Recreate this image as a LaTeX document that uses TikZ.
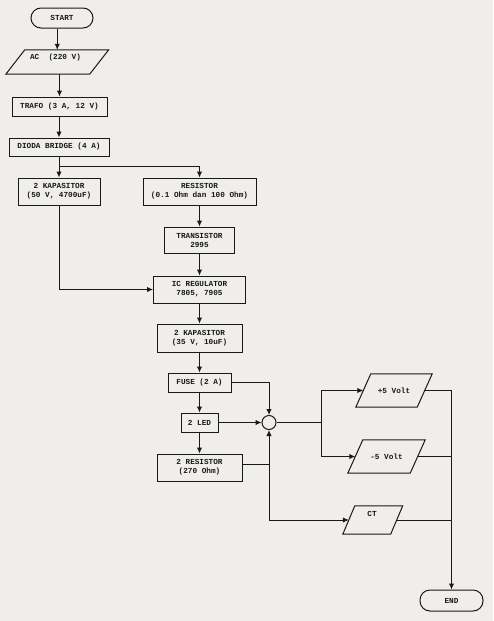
\documentclass[tikz,border=0pt]{standalone}
\usepackage{fontspec}
\newfontfamily\cour{Liberation Mono}
\usetikzlibrary{arrows.meta,calc}
\definecolor{bg}{RGB}{239,238,235}
\definecolor{ln}{RGB}{25,25,25}
\newcommand\mypgram[2]{\draw[ln,line width=1pt] ($(#1.north west)+(#2,0)$) -- ($(#1.north east)+(#2,0)$) -- ($(#1.south east)-(#2,0)$) -- ($(#1.south west)-(#2,0)$) -- cycle;}
\begin{document}
\begin{tikzpicture}[x=1pt,y=-1pt,
  every node/.style={font=\cour\bfseries\fontsize{7.7}{9}\selectfont, text=ln, inner sep=0pt},
  box/.style={draw=ln, line width=1pt, rectangle, align=center},
  term/.style={draw=ln, line width=1pt, rectangle, rounded corners=10pt, align=center},
  io/.style={rectangle, align=center},
  junc/.style={draw=ln, line width=1pt, circle, minimum size=14pt},
  arr/.style={-{Latex[length=6pt,width=5.5pt]}, draw=ln, line width=1pt},
  ln/.style={draw=ln, line width=1pt}]
\fill[bg] (0,0) rectangle (493,621);
\useasboundingbox (0,0) rectangle (493,621);

\node[term, minimum width=62pt, minimum height=20pt] (START) at (62,18) {START};
\node[io, minimum width=83.5pt, minimum height=24pt] (AC) at (57.25,62) {};
\mypgram{AC}{9.5}
\node (ACt) at (55.5,58) {AC~~(220~V)};
\node[box, minimum width=95pt, minimum height=19pt] (TRAFO) at (59.5,106.5) {TRAFO (3 A, 12 V)};
\node[box, minimum width=100pt, minimum height=18pt] (DIODA) at (59,147) {DIODA BRIDGE (4 A)};
\node[box, minimum width=82pt, minimum height=27pt] (KAP1) at (59,191.5) {2 KAPASITOR\\(50 V, 4700uF)};
\node[box, minimum width=113pt, minimum height=27pt] (RES) at (199.5,191.5) {RESISTOR\\(0.1 Ohm dan 100 Ohm)};
\node[box, minimum width=70pt, minimum height=26pt] (TR) at (199.5,240) {TRANSISTOR\\2995};
\node[box, minimum width=92pt, minimum height=27pt] (IC) at (199.5,289.5) {IC REGULATOR\\7805, 7905};
\node[box, minimum width=85pt, minimum height=28pt] (KAP2) at (199.5,338) {2 KAPASITOR\\(35 V, 10uF)};
\node[box, minimum width=63pt, minimum height=19pt] (FUSE) at (199.5,382.5) {FUSE (2 A)};
\node[box, minimum width=37pt, minimum height=19pt] (LED) at (199.5,422.5) {2 LED};
\node[box, minimum width=85pt, minimum height=27pt] (RES2) at (199.5,467.5) {2 RESISTOR\\(270 Ohm)};
\node[junc] (J) at (269,422.5) {};
\node[io, minimum width=61pt, minimum height=33pt] (P5) at (394,390.5) {+5 Volt};
\mypgram{P5}{7.5}
\node[io, minimum width=62pt, minimum height=33pt] (M5) at (386.5,456.5) {-5 Volt};
\mypgram{M5}{7.5}
\node[io, minimum width=47.5pt, minimum height=28pt] (CT) at (372.75,520) {};
\mypgram{CT}{6}
\node (CTt) at (372,514) {CT};
\node[term, minimum width=63pt, minimum height=21pt] (END) at (451.5,600.5) {END};

\coordinate (br) at (59,166);
\coordinate (split) at (321,422.5);
\coordinate (jr) at (269,464);

\draw[arr] (START.south -| AC.north) -- (AC.north);
\draw[arr] (AC.south -| TRAFO.north) -- (TRAFO.north);
\draw[arr] (TRAFO.south -| DIODA.north) -- (DIODA.north);
\draw[arr] (DIODA.south) -- (KAP1.north);
\draw[arr] (br) -| (RES.north);
\draw[arr] (RES.south) -- (TR.north);
\draw[arr] (TR.south) -- (IC.north);
\draw[arr] (KAP1.south) |- (IC.west);
\draw[arr] (IC.south) -- (KAP2.north);
\draw[arr] (KAP2.south) -- (FUSE.north);
\draw[arr] (FUSE.south) -- (LED.north);
\draw[arr] (LED.south) -- (RES2.north);
\draw[arr] (FUSE.east) -| (J.north);
\draw[arr] (LED.east) -- (J.west);
\draw[arr] (RES2.east |- jr) -- (jr) -- (J.south);
\draw[arr] (jr) |- (CT.west);
\draw[ln] (J.east) -- (split);
\draw[arr] (split) |- (P5.west);
\draw[arr] (split) |- (M5.west);
\draw[ln] (P5.east) -- (P5.east -| END.north);
\draw[ln] (M5.east) -- (M5.east -| END.north);
\draw[ln] (CT.east) -- (CT.east -| END.north);
\draw[arr] (P5.east -| END.north) -- (END.north);
\end{tikzpicture}
\end{document}
